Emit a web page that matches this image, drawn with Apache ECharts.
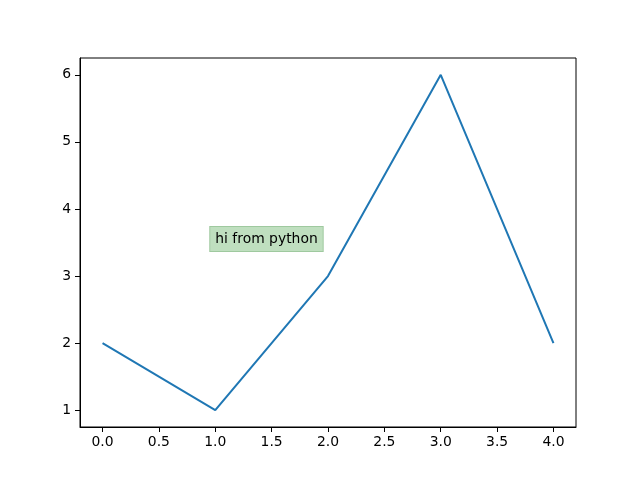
<!DOCTYPE html>
<html><head><meta charset="utf-8">
<script src="https://cdn.jsdelivr.net/npm/echarts@6/dist/echarts.min.js"></script>
<style>html,body{margin:0;padding:0;background:#fff}#c{width:640px;height:480px}</style>
</head><body><div id="c"></div>
<script>
const xValues = [0, 1, 2, 3, 4];
const yValues = [2, 1, 3, 6, 2];
const xTicks = [0, 0.5, 1, 1.5, 2, 2.5, 3, 3.5, 4];
const yTicks = [1, 2, 3, 4, 5, 6];
const annotationText = 'hi from python';
const annotationPos = [1, 3.5];

const font = 'DejaVu Sans';
const chart = echarts.init(document.getElementById('c'), null, {renderer: 'canvas'});
chart.setOption({
  animation: false,
  backgroundColor: '#fff',
  grid: {left: 80, right: 64, top: 58, bottom: 53, show: true, borderColor: '#000', borderWidth: 1, backgroundColor: 'transparent'},
  xAxis: {
    type: 'value', min: -0.2, max: 4.2,
    axisLine: {show: true, onZero: false, lineStyle: {color: '#000', width: 1}},
    axisTick: {show: true, length: 5, customValues: xTicks, lineStyle: {color: '#000'}},
    axisLabel: {customValues: xTicks, color: '#000', fontFamily: font, fontSize: 13.9, margin: 8,
      formatter: v => v.toFixed(1)},
    splitLine: {show: false}
  },
  yAxis: {
    type: 'value', min: 0.75, max: 6.25,
    axisLine: {show: true, onZero: false, lineStyle: {color: '#000', width: 1}},
    axisTick: {show: true, length: 5, customValues: yTicks, lineStyle: {color: '#000'}},
    axisLabel: {customValues: yTicks, color: '#000', fontFamily: font, fontSize: 13.9, margin: 9,
      formatter: v => String(v)},
    splitLine: {show: false}
  },
  series: [{
    type: 'line',
    data: xValues.map((x, i) => [x, yValues[i]]),
    showSymbol: false, symbol: 'none',
    lineStyle: {color: '#1f77b4', width: 2},
    markPoint: {
      symbol: 'rect', symbolSize: 0, silent: true,
      data: [{coord: annotationPos, value: annotationText}],
      label: {
        show: true, position: [0, 0], align: 'left', verticalAlign: 'middle',
        offset: [-5, -3.5],
        formatter: annotationText,
        color: '#000', fontFamily: font, fontSize: 13.9,
        backgroundColor: '#bfdfbf', borderColor: '#9fc99f', borderWidth: 1,
        padding: [5, 5, 5, 5]
      }
    }
  }]
});
</script></body></html>
